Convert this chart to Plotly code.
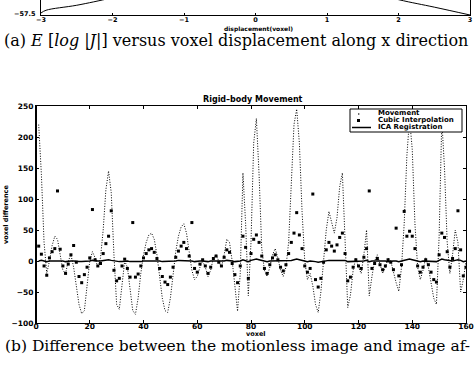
import plotly.graph_objects as go

W, H = 474, 369

# ---------------- data: panel (a) (only bottom visible) ----------------
disp = [-3.0, -2.93, -2.5, -2.0, -1.0, 0.0, 1.0, 2.0, 2.5, 3.0]
elogj = [-57.23, -56.87, -56.2, -55.2, -53.0, -52.0, -53.0, -55.45, -56.45, -57.5]
disp_ticks = [-3, -2, -1, 0, 1, 2, 3]
disp_labels = ["\u22123", "\u22122", "\u22121", "0", "1", "2", "3"]

# ---------------- data: panel (b) ----------------
voxel = list(range(1, 161))
movement = [
    220, 140, 30, -20, 0, 25, 40, 35, 10, -15,
    -20, 0, 10, -10, -40, -70, -85, -80, -40, 0,
    15, 5, -10, 5, 50, 115, 145, 110, 10, -70,
    -78, -40, 0, -10, -50, -80, -86, -60, -20, 10,
    30, 42, 45, 35, 10, -25, -60, -80, -83, -60,
    -20, 15, 40, 55, 60, 45, 15, -15, -30, -25,
    -10, 0, -10, -25, -15, 5, 10, 0, -10, 10,
    35, 30, 0, -40, -81, -20, 142, 60, -56, 30,
    190, 230, 140, 20, -15, -25, -10, 10, 20, 5,
    -15, -25, -10, 30, 120, 220, 245, 190, 80, 0,
    -30, -20, -40, -70, -83, -50, 0, 50, 80, 60,
    45, 70, 120, 142, 40, -75, -55, -15, 5, -10,
    -20, 10, 50, -56, -25, 0, 10, -5, -20, -10,
    5, 0, -20, -35, -49, -10, 60, 170, 230, 180,
    60, -10, -30, -15, 5, -10, -35, -60, -70, 40,
    227, 150, 30, -20, 10, 50, 30, -50, -30, 0,
]
cubic = [
    24, 11, -8, -23, 5, 15, 20, 113, 19, -8,
    -20, -5, 10, 25, -2, -25, -35, -22, -10, 5,
    83, 2, -8, -4, 12, 28, 40, 81, -15, -32,
    -28, -8, 3, -12, -26, 62, -26, -21, -8, 5,
    12, 18, 20, 14, 4, -12, -25, -34, -38, -26,
    -10, 6, 16, 24, 30, 20, 8, 62, -12, -18,
    -5, 2, -8, -20, -10, 4, 8, -2, -8, 6,
    18, 14, -4, -22, -35, -8, 40, 22, -28, 12,
    35, 42, 30, 8, -12, -20, -6, 5, 10, 2,
    -10, -16, -6, 12, 30, 45, 78, 42, 20, -8,
    -18, -12, 108, -30, -42, -28, -2, 18, 30, 24,
    16, 26, 38, 45, 12, -32, -26, -10, 2, -8,
    -12, 6, 20, 113, -12, -4, 4, -6, -14, -8,
    2, -2, -14, 53, -24, -6, 80, 40, 48, 40,
    20, -8, -18, -10, 2, -6, -18, -30, -34, 10,
    45, 38, 15, -10, 4, 20, 81, 18, -24, -10,
]
ica = [
    0, 1, 0, -1, 0, 0, 1, 1, 0, 0,
    -1, 0, 0, 0, -1, -1, -1, -1, 0, 0,
    1, 0, 0, 0, 1, 1, 2, 1, 0, -1,
    -1, -1, 0, 0, -1, -1, -2, -1, -1, 0,
    0, 1, 1, 1, 0, 0, -1, -1, -1, -1,
    0, 0, 1, 1, 1, 1, 0, 0, -1, 0,
    0, 0, -1, -1, 0, 0, 0, 0, -1, 0,
    1, 1, 0, -1, -1, 0, 2, 1, -1, 1,
    2, 3, 2, 1, 0, -1, 0, 0, 1, 0,
    0, 0, 0, 1, 1, 2, 3, 2, 1, 0,
    -1, 0, 0, -1, -2, -1, 0, 1, 1, 1,
    1, 1, 1, 2, 1, -1, -1, 0, 0, 0,
    0, 0, 1, -1, 0, 0, 1, 1, 1, 0,
    -1, 0, 0, 0, -1, 0, 1, 2, 3, 2,
    1, 0, -1, 0, 0, 0, -1, -1, -1, 1,
    3, 2, 1, 0, 0, 1, 2, 1, -1, 0,
]
x_ticks = [0, 20, 40, 60, 80, 100, 120, 140, 160]
y_ticks = [-100, -50, 0, 50, 100, 150, 200, 250]

SANS = "DejaVu Sans"
SERIF = "DejaVu Serif"


def px(x):
    return x / W


def py(y):
    return 1 - y / H


fig = go.Figure()

# panel (a) curve
fig.add_trace(go.Scatter(x=disp, y=elogj, mode="lines", line=dict(color="black", width=1),
                         xaxis="x2", yaxis="y2", showlegend=False, line_shape="spline"))

# panel (b)
fig.add_trace(go.Scatter(x=voxel, y=movement, mode="lines", name="Movement",
                         line=dict(color="black", width=1, dash="1px,1.6px"), showlegend=False))
fig.add_trace(go.Scatter(x=voxel, y=cubic, mode="markers", name="Cubic Interpolation",
                         marker=dict(color="black", size=3, symbol="square"), showlegend=False))
fig.add_trace(go.Scatter(x=voxel, y=ica, mode="lines", name="ICA Registration",
                         line=dict(color="black", width=1.5), showlegend=False))

tickfont = dict(family=SANS, size=7.5, color="black", weight="bold")
tickfont_a = dict(family=SANS, size=6.5, color="black", weight="bold")

fig.update_layout(
    width=W, height=H,
    margin=dict(l=0, r=0, t=0, b=0, pad=0),
    template="none",
    paper_bgcolor="white", plot_bgcolor="white",
    showlegend=False,
    xaxis=dict(domain=[px(36), px(466)], range=[0, 160], tickvals=x_ticks,
               ticks="inside", ticklen=3, tickcolor="black", showline=True,
               linecolor="black", linewidth=1, mirror="ticks", showgrid=False,
               zeroline=False, tickfont=tickfont, anchor="y", automargin=False,
               ticklabelstandoff=-4),
    yaxis=dict(domain=[py(323), py(106)], range=[-100, 250], tickvals=y_ticks,
               ticks="inside", ticklen=3, tickcolor="black", showline=True,
               linecolor="black", linewidth=1, mirror="ticks", showgrid=False,
               zeroline=False, tickfont=tickfont, anchor="x", automargin=False),
    xaxis2=dict(domain=[px(41), px(470)], range=[-3, 3], tickvals=disp_ticks,
                ticktext=disp_labels,
                ticks="inside", ticklen=2, tickcolor="black", showline=True,
                linecolor="black", linewidth=1, mirror=False, showgrid=False,
                zeroline=False, tickfont=tickfont_a, anchor="y2", automargin=False,
                ticklabelstandoff=-2),
    yaxis2=dict(domain=[py(15), 1], range=[-57.5, -55.5], showticklabels=False,
                ticks="", showline=True,
                linecolor="black", linewidth=1, mirror=True, showgrid=False,
                zeroline=False, anchor="x2", automargin=False),
)

shapes = []
# thicker left axis of panel (b)
shapes.append(dict(type="line", xref="paper", yref="paper", x0=px(36), x1=px(36),
                   y0=py(323), y1=py(106), line=dict(color="black", width=2)))
# legend box
shapes.append(dict(type="rect", xref="paper", yref="paper", x0=px(350), x1=px(462),
                   y0=py(132), y1=py(109), line=dict(color="black", width=1),
                   fillcolor="white"))
# legend samples
shapes.append(dict(type="circle", xref="paper", yref="paper", x0=px(358), x1=px(359.5),
                   y0=py(114.8), y1=py(113.3), fillcolor="black", line=dict(width=0)))
shapes.append(dict(type="rect", xref="paper", yref="paper", x0=px(357), x1=px(360),
                   y0=py(122), y1=py(119), fillcolor="black", line=dict(width=0)))
shapes.append(dict(type="line", xref="paper", yref="paper", x0=px(352), x1=px(371),
                   y0=py(127.5), y1=py(127.5), line=dict(color="black", width=1.5)))

annotations = []


def ann(text, x, y, size, family=SANS, bold=True, xanchor="center", angle=0, yanchor="middle"):
    annotations.append(dict(text=text, x=px(x), y=py(y), xref="paper", yref="paper",
                            showarrow=False, xanchor=xanchor, yanchor=yanchor, textangle=angle,
                            font=dict(family=family, size=size, color="black",
                                      weight="bold" if bold else "normal")))


ann("\u221257.5", 38, 14, 6.5, xanchor="right")
ann("displacement(voxel)", 258, 28.5, 6)
ann("(a) <i>E</i> [<i>log</i> |<i>J</i>|] versus voxel displacement along x direction",
    236, 40, 16, family=SERIF, bold=False)
ann("Rigid\u2013body Movement", 253, 99, 8)
ann("Movement", 376, 113.5, 7, xanchor="left")
ann("Cubic Interpolation", 376, 120.5, 7, xanchor="left")
ann("ICA Registration", 376, 127.5, 7, xanchor="left")
ann("voxel difference", 6, 215, 6.5, angle=-90)
ann("voxel", 256, 334, 6.5)
ann("(b) Difference between the motionless image and image af-", 237, 345.5, 15.5,
    family=SERIF, bold=False)
ann("ter rigid-body movement using cubic interpolation and ICA registration", 236, 375, 15.5,
    family=SERIF, bold=False)

fig.update_layout(shapes=shapes, annotations=annotations)
fig.write_html("out.html", config={"displayModeBar": False},
               post_script="document.body.style.margin='0';document.body.style.padding='0';")
